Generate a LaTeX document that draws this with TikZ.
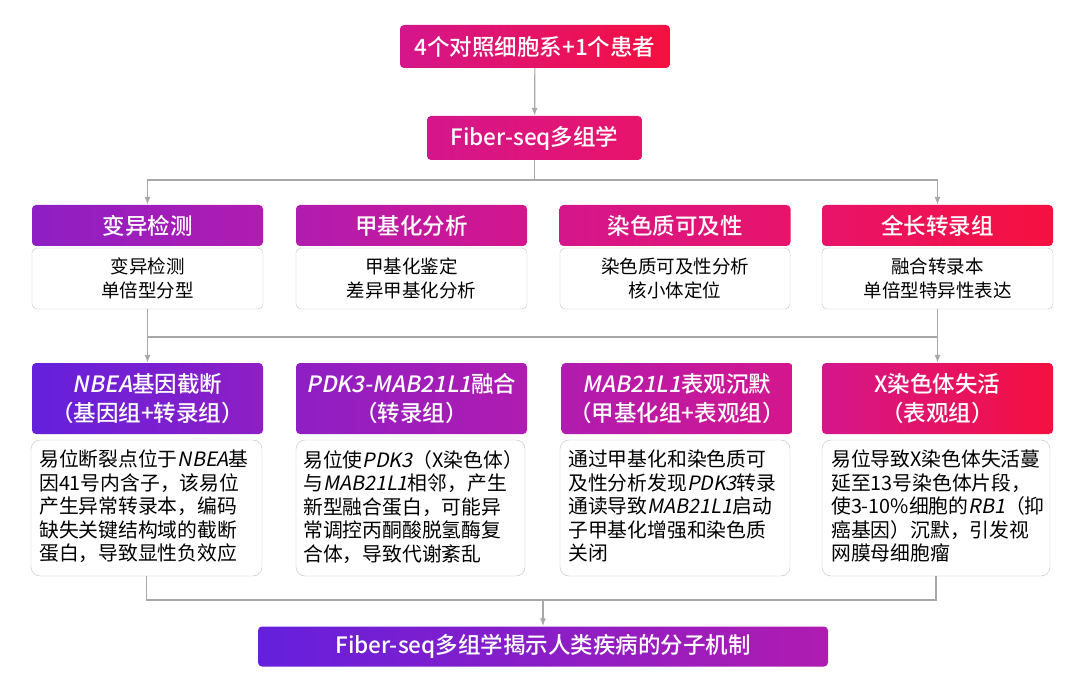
\documentclass[tikz,border=0pt]{standalone}
\usepackage{fontspec}
\setmainfont{Noto Sans CJK SC}
\newfontfamily\slf{Noto Sans CJK SC}[FakeSlant=0.2]
\newfontfamily\hdf{Noto Sans CJK SC Medium}
\newfontfamily\hdsl{Noto Sans CJK SC Medium}[FakeSlant=0.2]
\newcommand{\gi}[1]{{\slf #1}}
\newcommand{\hi}[1]{{\hdsl #1}}
\usetikzlibrary{arrows.meta}
\definecolor{cA}{HTML}{6420DC}
\definecolor{cB}{HTML}{8E1FC4}
\definecolor{cC}{HTML}{B01CB0}
\definecolor{cD}{HTML}{D4168C}
\definecolor{cE}{HTML}{E8146A}
\definecolor{cF}{HTML}{F5103F}
\definecolor{ln}{HTML}{A8A8A8}
\begin{document}
\begin{tikzpicture}[x=1pt,y=-1pt,
 hd/.style={rounded corners=4pt,text=white,inner sep=0pt,align=center,font=\hdf\fontsize{22.5}{29}\selectfont},
 bx/.style={draw=ln!70,fill=white,rounded corners=5pt,inner sep=0pt,align=center,font=\fontsize{18.5}{24}\selectfont},
 tx/.style={draw=ln!70,fill=white,rounded corners=9pt,inner sep=0pt},
 bd/.style={anchor=north west,align=left,inner sep=0pt,font=\fontsize{19.8}{23.5}\selectfont},
 cn/.style={draw=ln,line width=1.2pt},
 ar/.style={cn,-{Latex[length=8pt,width=6pt]}}]
\useasboundingbox (0,0) rectangle (1080,695);
\node[hd,left color=cD,right color=cF,minimum width=270pt,minimum height=43pt] (top) at (535,46.5) {4个对照细胞系+1个患者};
\node[hd,left color=cD,right color=cE,minimum width=215pt,minimum height=44pt] (fs) at (534.5,138) {Fiber-seq多组学};
\foreach \n/\x/\a/\b/\t in {h1/147.5/cB/cC/变异检测, h2/411.5/cC/cD/甲基化分析, h3/675/cD/cE/染色质可及性, h4/937.5/cE/cF/全长转录组}{
 \node[hd,left color=\a,right color=\b,minimum width=231pt,minimum height=41pt] (\n) at (\x,225.5) {\t};}
\node[bx,minimum width=231pt,minimum height=61pt] (b1) at (147.5,278.5) {变异检测\\单倍型分型};
\node[bx,minimum width=231pt,minimum height=61pt] (b2) at (411.5,278.5) {甲基化鉴定\\差异甲基化分析};
\node[bx,minimum width=230pt,minimum height=61pt] (b3) at (675,278.5) {染色质可及性分析\\核小体定位};
\node[bx,minimum width=231pt,minimum height=61pt] (b4) at (937.5,278.5) {融合转录本\\单倍型特异性表达};
\node[hd,left color=cA,right color=cB,minimum width=231pt,minimum height=71pt] (g1) at (147.5,398.5) {\hi{NBEA}基因截断\\（基因组+转录组）};
\node[hd,left color=cB,right color=cC,minimum width=231pt,minimum height=71pt] (g2) at (411.5,398.5) {\hi{PDK3-MAB21L1}融合\\（转录组）};
\node[hd,left color=cC,right color=cD,minimum width=231pt,minimum height=71pt] (g3) at (677,398.5) {\hi{MAB21L1}表观沉默\\（甲基化组+表观组）};
\node[hd,left color=cD,right color=cF,minimum width=231pt,minimum height=71pt] (g4) at (937.5,398.5) {X染色体失活\\（表观组）};
\node[tx,minimum width=231pt,minimum height=136pt] (t1) at (146.5,508) {};
\node[tx,minimum width=229pt,minimum height=136pt] (t2) at (410.5,508) {};
\node[tx,minimum width=230pt,minimum height=136pt] (t3) at (675,508) {};
\node[tx,minimum width=228pt,minimum height=136pt] (t4) at (936,508) {};
\node[bd] (p1) at (39,450) {易位断裂点位于\gi{NBEA}基\\因41号内含子，该易位\\产生异常转录本，编码\\缺失关键结构域的截断\\蛋白，导致显性负效应};
\node[bd] (p2) at (303,450) {易位使\gi{PDK3}（X染色体）\\与\gi{MAB21L1}相邻，产生\\新型融合蛋白，可能异\\常调控丙酮酸脱氢酶复\\合体，导致代谢紊乱};
\node[bd] (p3) at (568,450) {通过甲基化和染色质可\\及性分析发现\gi{PDK3}转录\\通读导致\gi{MAB21L1}启动\\子甲基化增强和染色质\\关闭};
\node[bd] (p4) at (831,450) {易位导致X染色体失活蔓\\延至13号染色体片段，\\使3-10\%细胞的\gi{RB1}（抑\\癌基因）沉默，引发视\\网膜母细胞瘤};
\node[hd,left color=cA,right color=cC,minimum width=570pt,minimum height=40pt] (bot) at (543,646.5) {Fiber-seq多组学揭示人类疾病的分子机制};
\coordinate (j1) at (534.5,180);
\coordinate (j2) at (543,337);
\coordinate (j3) at (543,600);
\draw[ar] (top) -- (fs);
\draw[cn] (fs) -- (j1);
\draw[ar] (j1) -| (h1);
\draw[ar] (j1) -| (h4);
\draw[cn] (b1) |- (j2) -| (b4);
\draw[ar] (b1.south) -- (g1.north);
\draw[ar] (b4.south) -- (g4.north);
\draw[cn] (t1) |- (j3) -| (t4);
\draw[ar] (j3) -- (bot);
\end{tikzpicture}
\end{document}
